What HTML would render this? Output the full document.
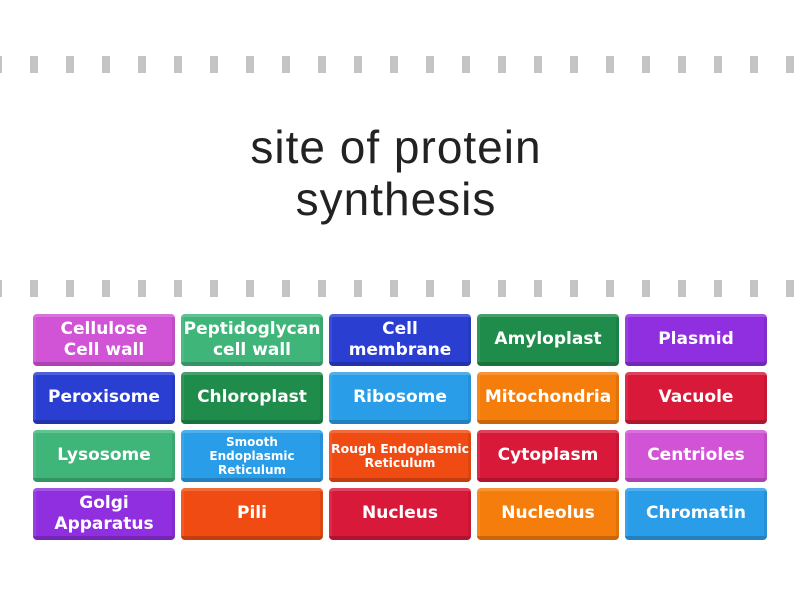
<!DOCTYPE html>
<html><head><meta charset="utf-8"><style>
body{margin:0;width:800px;height:600px;background:#fff;overflow:hidden;position:relative;font-family:"DejaVu Sans","Liberation Sans",sans-serif}
.dash{position:absolute;width:8px;height:17px;background:#c4c4c4}
.title{position:absolute;left:0;width:792px;top:121px;text-align:center;font-size:46px;line-height:52px;letter-spacing:1px;color:#222;font-family:"Liberation Sans",sans-serif;font-weight:normal}
.t{position:absolute;width:142px;height:52px;border-radius:4px;color:#fff;font-weight:bold;display:flex;align-items:center;justify-content:center;text-align:center;font-size:17px;line-height:21px;box-sizing:border-box;border-top:3px solid rgba(255,255,255,.18);border-bottom:4px solid rgba(0,0,0,.18);box-shadow:inset 3px 0 0 rgba(255,255,255,.08),inset -3px 0 0 rgba(0,0,0,.08)}
.s{font-size:12px;line-height:14px}
</style></head><body>
<div id="d"></div>
<div class="title">site of protein<br>synthesis</div>
<script>
var h='';for(var x=-6;x<800;x+=36){h+='<div class="dash" style="left:'+x+'px;top:56px"></div><div class="dash" style="left:'+x+'px;top:280px"></div>';}
document.getElementById('d').innerHTML=h;
</script>
<div class="t" style="left:33px;top:314px;background:#d153d6">Cellulose<br>Cell wall</div>
<div class="t" style="left:181px;top:314px;background:#3fb57a">Peptidoglycan<br>cell wall</div>
<div class="t" style="left:329px;top:314px;background:#2a3ed2">Cell<br>membrane</div>
<div class="t" style="left:477px;top:314px;background:#1f8c4b">Amyloplast</div>
<div class="t" style="left:625px;top:314px;background:#8f2fe0">Plasmid</div>

<div class="t" style="left:33px;top:372px;background:#2a3ed2">Peroxisome</div>
<div class="t" style="left:181px;top:372px;background:#1f8c4b">Chloroplast</div>
<div class="t" style="left:329px;top:372px;background:#2a9de9">Ribosome</div>
<div class="t" style="left:477px;top:372px;background:#f57d0c">Mitochondria</div>
<div class="t" style="left:625px;top:372px;background:#d8193a">Vacuole</div>

<div class="t" style="left:33px;top:430px;background:#3fb57a">Lysosome</div>
<div class="t s" style="left:181px;top:430px;background:#2a9de9">Smooth<br>Endoplasmic<br>Reticulum</div>
<div class="t s" style="left:329px;top:430px;background:#f04b12;font-size:12.5px">Rough Endoplasmic<br>Reticulum</div>
<div class="t" style="left:477px;top:430px;background:#d8193a">Cytoplasm</div>
<div class="t" style="left:625px;top:430px;background:#d153d6">Centrioles</div>

<div class="t" style="left:33px;top:488px;background:#8f2fe0">Golgi<br>Apparatus</div>
<div class="t" style="left:181px;top:488px;background:#f04b12">Pili</div>
<div class="t" style="left:329px;top:488px;background:#d8193a">Nucleus</div>
<div class="t" style="left:477px;top:488px;background:#f57d0c">Nucleolus</div>
<div class="t" style="left:625px;top:488px;background:#2a9de9">Chromatin</div>
</body></html>
